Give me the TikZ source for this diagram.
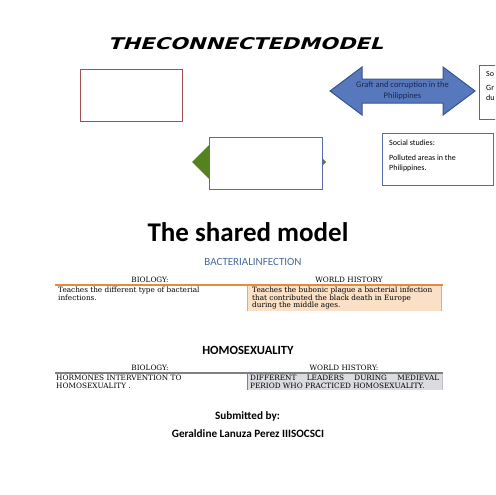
\documentclass[tikz,border=0pt]{standalone}
\usepackage{fontspec}
\setmainfont{Carlito}
\newfontfamily\cellfont{DejaVu Serif}
\newfontfamily\titlefont[FakeSlant=0.25]{DejaVu Sans}
\definecolor{boxred}{RGB}{160,80,80}
\definecolor{boxblue}{RGB}{85,108,165}
\definecolor{arrowfill}{RGB}{88,120,190}
\definecolor{arrowline}{RGB}{55,85,140}
\definecolor{leafgreen}{RGB}{84,130,30}
\definecolor{topicblue}{RGB}{70,105,155}
\definecolor{orangeline}{RGB}{228,140,60}
\definecolor{orangecell}{RGB}{232,170,110}
\definecolor{peach}{RGB}{251,224,200}
\definecolor{grayline}{RGB}{128,128,128}
\definecolor{grayfill}{RGB}{218,220,224}
\definecolor{arrowtext}{RGB}{25,40,75}
\begin{document}
\begin{tikzpicture}[x=1pt,y=-1pt,
  emptybox/.style={draw, line width=1.2pt, fill=white, anchor=north west, inner sep=0pt},
  smalltext/.style={font=\fontsize{8}{9}\selectfont, anchor=base west, inner sep=0pt},
  celltext/.style={font=\cellfont\fontsize{7.3}{8}\selectfont, anchor=base west, inner sep=0pt},
  headtext/.style={font=\cellfont\fontsize{7.3}{8}\selectfont, anchor=base, inner sep=0pt},
  heading/.style={font=\bfseries\fontsize{11.2}{13}\selectfont, anchor=base, inner sep=0pt}]
\useasboundingbox (0,0) rectangle (495,495);
\clip (0,0) rectangle (495,495);

% title
\node[inner sep=0pt] (title) at (245.5,44) {\resizebox{275pt}{12pt}{\titlefont\bfseries THECONNECTEDMODEL}};

% top left empty box
\node[emptybox, draw=boxred, minimum width=102pt, minimum height=52pt] (redbox) at (80,69) {};

% double arrow
\path[fill=arrowfill, draw=arrowline, line width=1pt]
  (330,91) -- (362,67) -- (362,79) -- (443,79) -- (443,67) -- (475,91)
  -- (443,115) -- (443,103) -- (362,103) -- (362,115) -- cycle;
\node[align=center, inner sep=0pt, text=arrowtext, font=\fontsize{8.5}{11}\selectfont] (arrowlabel) at (402.5,91)
  {Graft and corruption in the\\Philippines};

% right box, cut by the page edge
\node[emptybox, draw=boxred, minimum width=60pt, minimum height=54pt] (sidebox) at (479,65) {};
\node[smalltext] (sideA) at (486,76.5) {So};
\node[smalltext] (sideB) at (486,90) {Gr};
\node[smalltext] (sideC) at (486,100.5) {du};

% green shape behind middle box
\fill[leafgreen] (192,162) -- (212,142) -- (306,142) -- (326,162) -- (306,182) -- (212,182) -- cycle;
\node[emptybox, draw=boxblue, minimum width=113pt, minimum height=52pt] (midbox) at (209,137) {};

% social studies box
\node[emptybox, draw=boxblue, minimum width=111pt, minimum height=52pt] (socbox) at (382,133) {};
\node[smalltext] (socA) at (389,145.5) {Social studies:};
\node[smalltext] (socB) at (389,160) {Polluted areas in the};
\node[smalltext] (socC) at (389,170) {Philippines.};

% shared model
\node[font=\bfseries\fontsize{27}{30}\selectfont, anchor=base, inner sep=0pt] (shared) at (248,241) {The shared model};
\node[font=\fontsize{11}{13}\selectfont, text=topicblue, anchor=base, inner sep=0pt] (bact) at (253,265.5) {BACTERIALINFECTION};

% table 1
\fill[peach] (247,286) rectangle (441,311);
\draw[orangecell, line width=0.8pt] (247,286) -- (247,311);
\draw[orangecell, line width=0.8pt] (441,286) -- (441,311);
\draw[orangeline, line width=2pt] (55,285) -- (443,285);
\node[headtext] (bioA) at (150,282.5) {BIOLOGY:};
\node[headtext] (whA) at (349,282.5) {WORLD HISTORY};
\node[celltext] (tA1) at (58,292.5) {Teaches the different type of bacterial};
\node[celltext] (tA2) at (58,300) {infections.};
\node[celltext] (tB1) at (252,292.5) {Teaches the bubonic plague a bacterial infection};
\node[celltext] (tB2) at (252,300) {that contributed the black death in Europe};
\node[celltext] (tB3) at (252,307.5) {during the middle ages.};

% homosexuality
\node[heading, font=\bfseries\fontsize{12.5}{14}\selectfont] (homo) at (248,354) {HOMOSEXUALITY};

% table 2
\fill[grayfill] (247,374) rectangle (442,390);
\draw[grayline, line width=0.8pt] (247,374) -- (247,390);
\draw[grayline!50, line width=0.8pt] (442,374) -- (442,390);
\draw[grayline, line width=2pt] (55,373) -- (443,373);
\node[headtext] (bioB) at (150,370.5) {BIOLOGY:};
\node[headtext] (whB) at (344,370.5) {WORLD HISTORY:};
\node[celltext] (hA1) at (56,380.4) {HORMONES INTERVENTION TO};
\node[celltext] (hA2) at (56,388.4) {HOMOSEXUALITY .};
\node[celltext] (hB1) at (250,380.4) {\hbox to 189pt{DIFFERENT\hfill LEADERS\hfill DURING\hfill MEDIEVAL}};
\node[celltext] (hB2) at (250,388.4) {PERIOD WHO PRACTICED HOMOSEXUALITY.};

% submitted
\node[heading] (sub) at (247.5,419.5) {Submitted by:};
\node[heading] (name) at (248,437.5) {Geraldine Lanuza Perez IIISOCSCI};
\end{tikzpicture}
\end{document}
